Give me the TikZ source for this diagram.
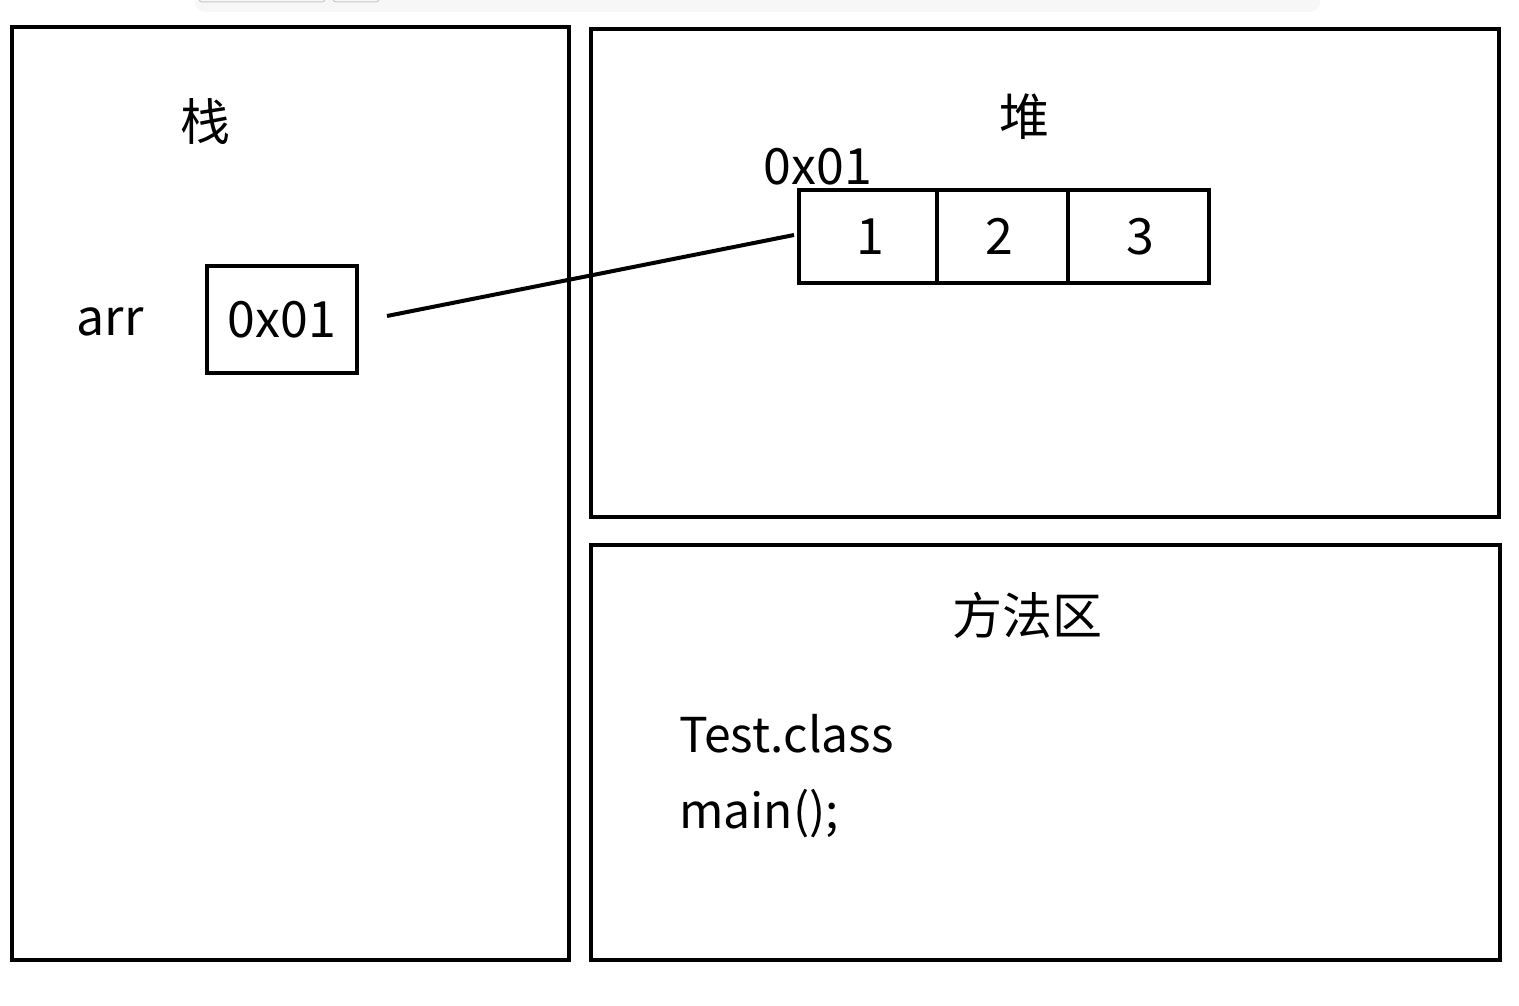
\documentclass[tikz,border=0pt]{standalone}
\usepackage{fontspec}
\setmainfont{Noto Sans CJK SC}
\begin{document}
\begin{tikzpicture}[x=1pt,y=-1pt,
  box/.style={draw=black,line width=4pt,inner sep=0pt,outer sep=0pt},
  txt/.style={inner sep=0pt,font=\fontsize{50}{60}\selectfont},
  lbl/.style={inner sep=0pt,anchor=base west,font=\fontsize{48}{58}\selectfont}]
\useasboundingbox (0,0) rectangle (1519,1006);
% faint UI strip at top
\fill[black!3,rounded corners=10pt] (195,-20) rectangle (1320,12);
\draw[black!22,line width=1pt,rounded corners=3pt] (199,-10) -- (199,2) -- (325,2) -- (325,-10);
\draw[black!22,line width=1pt,rounded corners=3pt] (333,-10) -- (333,2) -- (379,2) -- (379,-10);
% regions
\draw[box] (12,27) rectangle (569,960);
\draw[box] (591,29) rectangle (1499,517);
\draw[box] (591,545) rectangle (1500,960);
\node[txt] (stack) at (205,122) {栈};
\node[txt] (heap) at (1024,117) {堆};
\node[txt] (method) at (1027,615) {方法区};
% stack var
\node[txt] (arr) at (110,322) {arr};
\node[box,minimum width=150pt,minimum height=107pt,font=\fontsize{50}{60}\selectfont] (ref) at (282,319.5) {0x01};
% heap array
\node[box,minimum width=138pt,minimum height=93pt,font=\fontsize{50}{60}\selectfont] (c1) at (868,236.5) {\raisebox{-2pt}{\hspace*{4pt}1}};
\node[box,minimum width=131pt,minimum height=93pt,font=\fontsize{50}{60}\selectfont,anchor=west] (c2) at (c1.east) {\raisebox{-2pt}{\hspace*{-6pt}2}};
\node[box,minimum width=141pt,minimum height=93pt,font=\fontsize{50}{60}\selectfont,anchor=west] (c3) at (c2.east) {\raisebox{-2pt}{\hspace*{4pt}3}};
\node[txt] (addr) at (818,167) {0x01};
% method area
\node[lbl] (test) at (679,752) {Test.class};
\node[lbl] (main) at (679,828) {main();};
% reference line
\coordinate (lstart) at (387,316);
\coordinate (lend) at (794,235);
\draw[line width=4pt] (lstart) -- (lend);
\end{tikzpicture}
\end{document}
